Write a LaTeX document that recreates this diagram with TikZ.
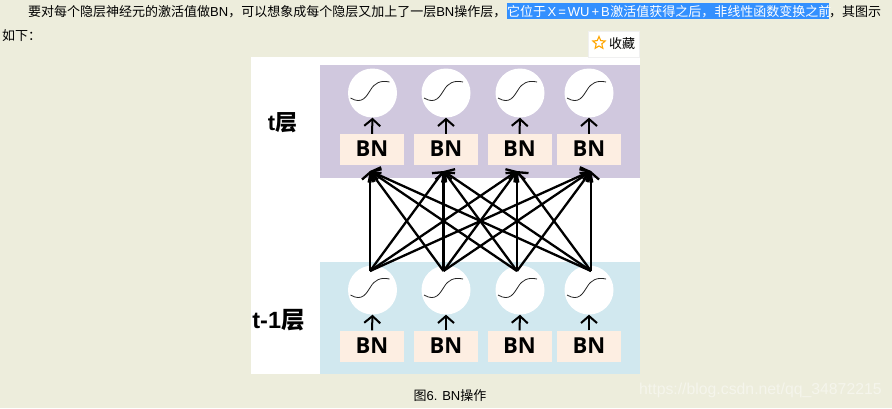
\documentclass[tikz,border=0pt]{standalone}
\usepackage{fontspec}
\usetikzlibrary{arrows.meta,shapes.geometric,calc}
\setmainfont{Liberation Sans}
\newfontfamily\cjk{Noto Sans CJK SC}
\newfontfamily\bnfont{Open Sans}
\definecolor{pagebg}{HTML}{EDEDDC}
\definecolor{sel}{HTML}{3390FF}
\definecolor{purp}{HTML}{D0C8DE}
\definecolor{lblue}{HTML}{D1E8EF}
\definecolor{bnfill}{HTML}{FDEEE2}
\tikzset{
  txt/.style={inner sep=0pt,anchor=base west,font=\fontsize{13}{15}\selectfont},
  neuron/.style={circle,fill=white,draw=none,minimum size=49pt,inner sep=0pt},
  bnbox/.style={rectangle,fill=bnfill,draw=none,minimum width=64pt,minimum height=31pt,inner sep=0pt,font=\fontsize{22}{24}\selectfont\bnfont\bfseries},
  layerlbl/.style={inner sep=0pt,font=\fontsize{22}{24}\selectfont\bfseries},
  small/.style={-{Straight Barb[length=7pt,width=16pt]},line width=2pt},
  link/.style={-{Straight Barb[length=7pt,width=16pt]},line width=2.3pt},
  curve/.style={line width=0.8pt,black!85}
}
\newcommand{\scurve}[1]{\draw[curve] ($(#1)+(-22,5)$) .. controls ($(#1)+(-10,12)$) and ($(#1)+(-6,3)$) .. ($(#1)+(-2,-3)$) .. controls ($(#1)+(2,-10)$) and ($(#1)+(8,-13)$) .. ($(#1)+(17,-11)$);}
\begin{document}
\begin{tikzpicture}[x=1pt,y=-1pt]
\useasboundingbox (0,0) rectangle (892,408);
\fill[pagebg] (0,0) rectangle (892,408);
% text
\fill[sel] (507,3) rectangle (829,19);
\node[txt] (t1) at (28,16) {\cjk 要对每个隐层神经元的激活值做\normalfont BN\cjk ，可以想象成每个隐层又加上了一层\normalfont BN\cjk 操作层，};
\node[txt,text=white] (t2) at (507,16) {\cjk 它位于\normalfont\kern1.5pt X\kern2pt=\kern2pt WU\kern2pt+\kern2pt B\kern.5pt\cjk 激活值获得之后，非线性函数变换之前};
\node[txt] (t3) at (829,16) {\cjk ，其图示};
\node[txt] (t4) at (2,40) {\cjk 如下：};
% button
\fill[white] (251,57) rectangle (640,374);
\fill[white!98!pagebg,draw=white!88!gray] (588,31) rectangle (639,57);
\node[star,star points=5,star point ratio=2.2,draw=orange!70!yellow,fill=white,line width=1.1pt,minimum size=13pt,inner sep=0pt] (st) at (599,43) {};
\node[txt] (fav) at (609,48) {\cjk 收藏};
% bands
\fill[purp] (320,65) rectangle (640,178);
\fill[lblue] (320,262) rectangle (640,374);
% neurons
\foreach \n/\x/\bx in {1/372.5/372,2/446/446,3/520/519.5,4/589/589}{
  \node[neuron] (nt\n) at (\x,93) {};
  \node[neuron] (nb\n) at (\x,290) {};
  \node[bnbox] (bt\n) at (\bx,149.5) {\raisebox{1pt}{BN}};
  \node[bnbox] (bb\n) at (\bx,346) {\raisebox{1.5pt}{BN}};
  \scurve{nt\n}
  \scurve{nb\n}
  \draw[small] (bt\n.north) -- (nt\n.south);
  \draw[small] (bb\n.north) -- (nb\n.south);
}
\foreach \n/\x in {1/370,2/443.5,3/517,4/591}{
  \coordinate (in\n) at (\x,171);
  \coordinate (out\n) at (\x,271);
}
\foreach \a in {1,2,3,4}{
  \foreach \b in {1,2,3,4}{
    \draw[link] (out\a) -- (in\b);
  }
}
\node[layerlbl] (lt) at (282.5,123) {t\cjk\bfseries 层};
\node[layerlbl,font=\fontsize{23.5}{25}\selectfont\bfseries] (lb) at (278.5,320) {t-1\cjk\bfseries 层};
\node[inner sep=0pt,anchor=base,font=\fontsize{13}{15}\selectfont] (cap) at (450,400) {\cjk 图\normalfont 6. BN\cjk 操作};
\node[inner sep=0pt,anchor=base west,font=\fontsize{15.8}{17}\selectfont,text=white!45!pagebg] (wm) at (639,394) {https://blog.csdn.net/qq\_34872215};
\end{tikzpicture}
\end{document}
